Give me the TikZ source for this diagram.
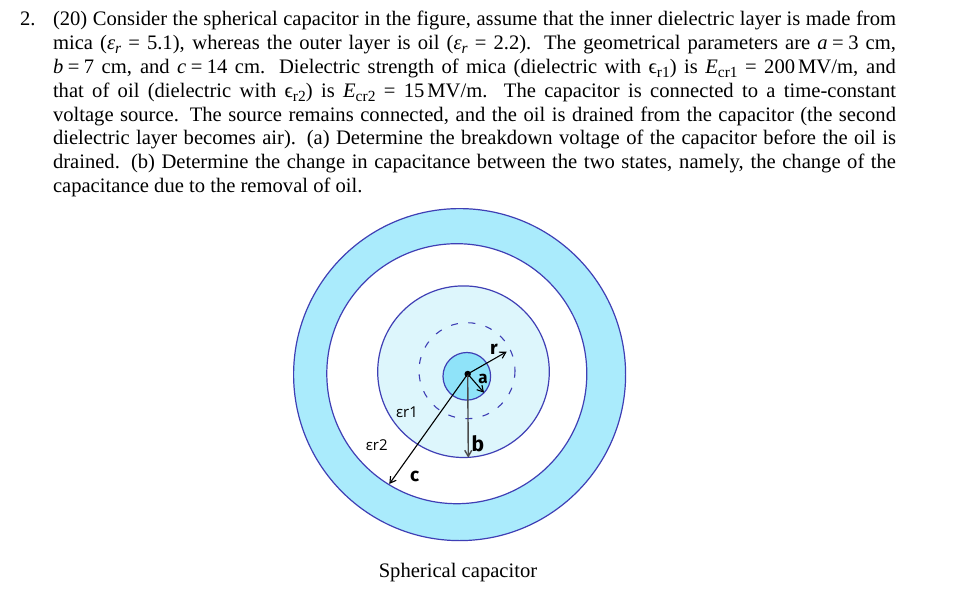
\documentclass[tikz,border=0pt]{standalone}
\usepackage{fontspec}
\setmainfont{Liberation Serif}
\newfontfamily\handbold{Fira Sans}
\newfontfamily\handthin{Open Sans}
\usetikzlibrary{arrows.meta}
\definecolor{ringblue}{HTML}{AAEBFC}
\definecolor{midblue}{HTML}{DDF6FC}
\definecolor{coreblue}{HTML}{8FE3F9}
\definecolor{edgeblue}{HTML}{3F3FB5}
\newcommand{\lowered}[1]{\raisebox{-0.22em}{\fontsize{15.5}{15.5}\selectfont #1}}
\newcommand{\er}{\textit{ε}\lowered{\textit{r}}}
\newcommand{\esub}[1]{ϵ\lowered{#1}}
\newcommand{\ecr}[1]{\textit{E}\lowered{#1}}
\newcommand{\fulline}[1]{\makebox[843pt][s]{#1}}
\newcommand{\tighteq}{\kern4.5pt=\kern4.5pt}
\tikzset{
  x=1pt,y=-1pt,
  textline/.style={anchor=base west,inner sep=0pt,outer sep=0pt,font=\fontsize{20.6}{24}\selectfont},
  shell/.style={draw=edgeblue,line width=1.2pt},
  guide/.style={draw=edgeblue,line width=1.1pt,dash pattern=on 7pt off 10.5pt},
  radius arrow/.style={draw=black,line width=1.1pt,-{Straight Barb[length=6pt,width=7pt]}},
  bold label/.style={inner sep=0pt,font=\handbold\bfseries\fontsize{19}{19}\selectfont},
  thin label/.style={inner sep=0pt,font=\handthin\fontsize{15}{15}\selectfont},
}
\begin{document}
\begin{tikzpicture}
\useasboundingbox (0,0) rectangle (970,600);
\fill[white] (0,0) rectangle (970,600);
\node[textline] (num) at (20,25) {2.};
\node[textline] (l1) at (53,25) {\fulline{(20) Consider the spherical capacitor in the figure, assume that the inner dielectric layer is made from}};
\node[textline] (l2) at (53,49) {\fulline{mica (\er{} = 5.1), whereas the outer layer is oil (\er{} = 2.2). The geometrical parameters are \textit{a}\tighteq 3 cm,}};
\node[textline] (l3) at (53,73) {\fulline{\textit{b}\tighteq 7 cm, and \textit{c}\tighteq 14 cm. Dielectric strength of mica (dielectric with \esub{r1}) is \ecr{cr1} = 200\kern3pt MV/m, and}};
\node[textline] (l4) at (53,97) {\fulline{that of oil (dielectric with \esub{r2}) is \ecr{cr2} = 15\kern3pt MV/m. The capacitor is connected to a time-constant}};
\node[textline] (l5) at (53,121) {\fulline{voltage source. The source remains connected, and the oil is drained from the capacitor (the second}};
\node[textline] (l6) at (53,144.5) {\fulline{dielectric layer becomes air). (a) Determine the breakdown voltage of the capacitor before the oil is}};
\node[textline] (l7) at (53,168.5) {\fulline{drained. (b) Determine the change in capacitance between the two states, namely, the change of the}};
\node[textline] (l8) at (53,192.5) {capacitance due to the removal of oil.};

\path[shell,fill=ringblue] (459.6,374.6) circle (166);
\path[shell,fill=white] (456.8,373.7) circle (130);
\path[shell,fill=midblue] (463.5,371.7) circle (85.8);
\path[guide] (467,370.7) circle (48);
\path[shell,fill=coreblue] (466.8,376.3) circle (23.8);

\node[circle,fill=black,inner sep=0pt,minimum size=6.5pt] (o) at (467.7,374) {};
\coordinate (rtip) at (506.7,351.7);
\coordinate (atip) at (484,392.7);
\coordinate (btip) at (468.3,457.7);
\coordinate (ctip) at (389.3,484);
\draw[radius arrow] (o.center) -- (rtip);
\draw[radius arrow] (o.center) -- (atip);
\draw[radius arrow,draw=black!70,line width=1.4pt] (o.center) -- (btip);
\draw[radius arrow] (o.center) -- (ctip);

\node[bold label] (rl) at (494,349.5) {r};
\node[bold label,font=\handbold\bfseries\fontsize{17}{17}\selectfont] (al) at (483,379) {a};
\node[bold label,font=\handbold\bfseries\fontsize{21}{21}\selectfont] (bl) at (478,443.5) {b};
\node[bold label] (cl) at (414.7,476.5) {c};
\node[thin label] (e1) at (407,412) {εr1};
\node[thin label] (e2) at (376.7,445) {εr2};

\node[anchor=base,inner sep=0pt,font=\fontsize{20.6}{24}\selectfont] (cap) at (458,577.7) {Spherical capacitor};
\end{tikzpicture}
\end{document}
